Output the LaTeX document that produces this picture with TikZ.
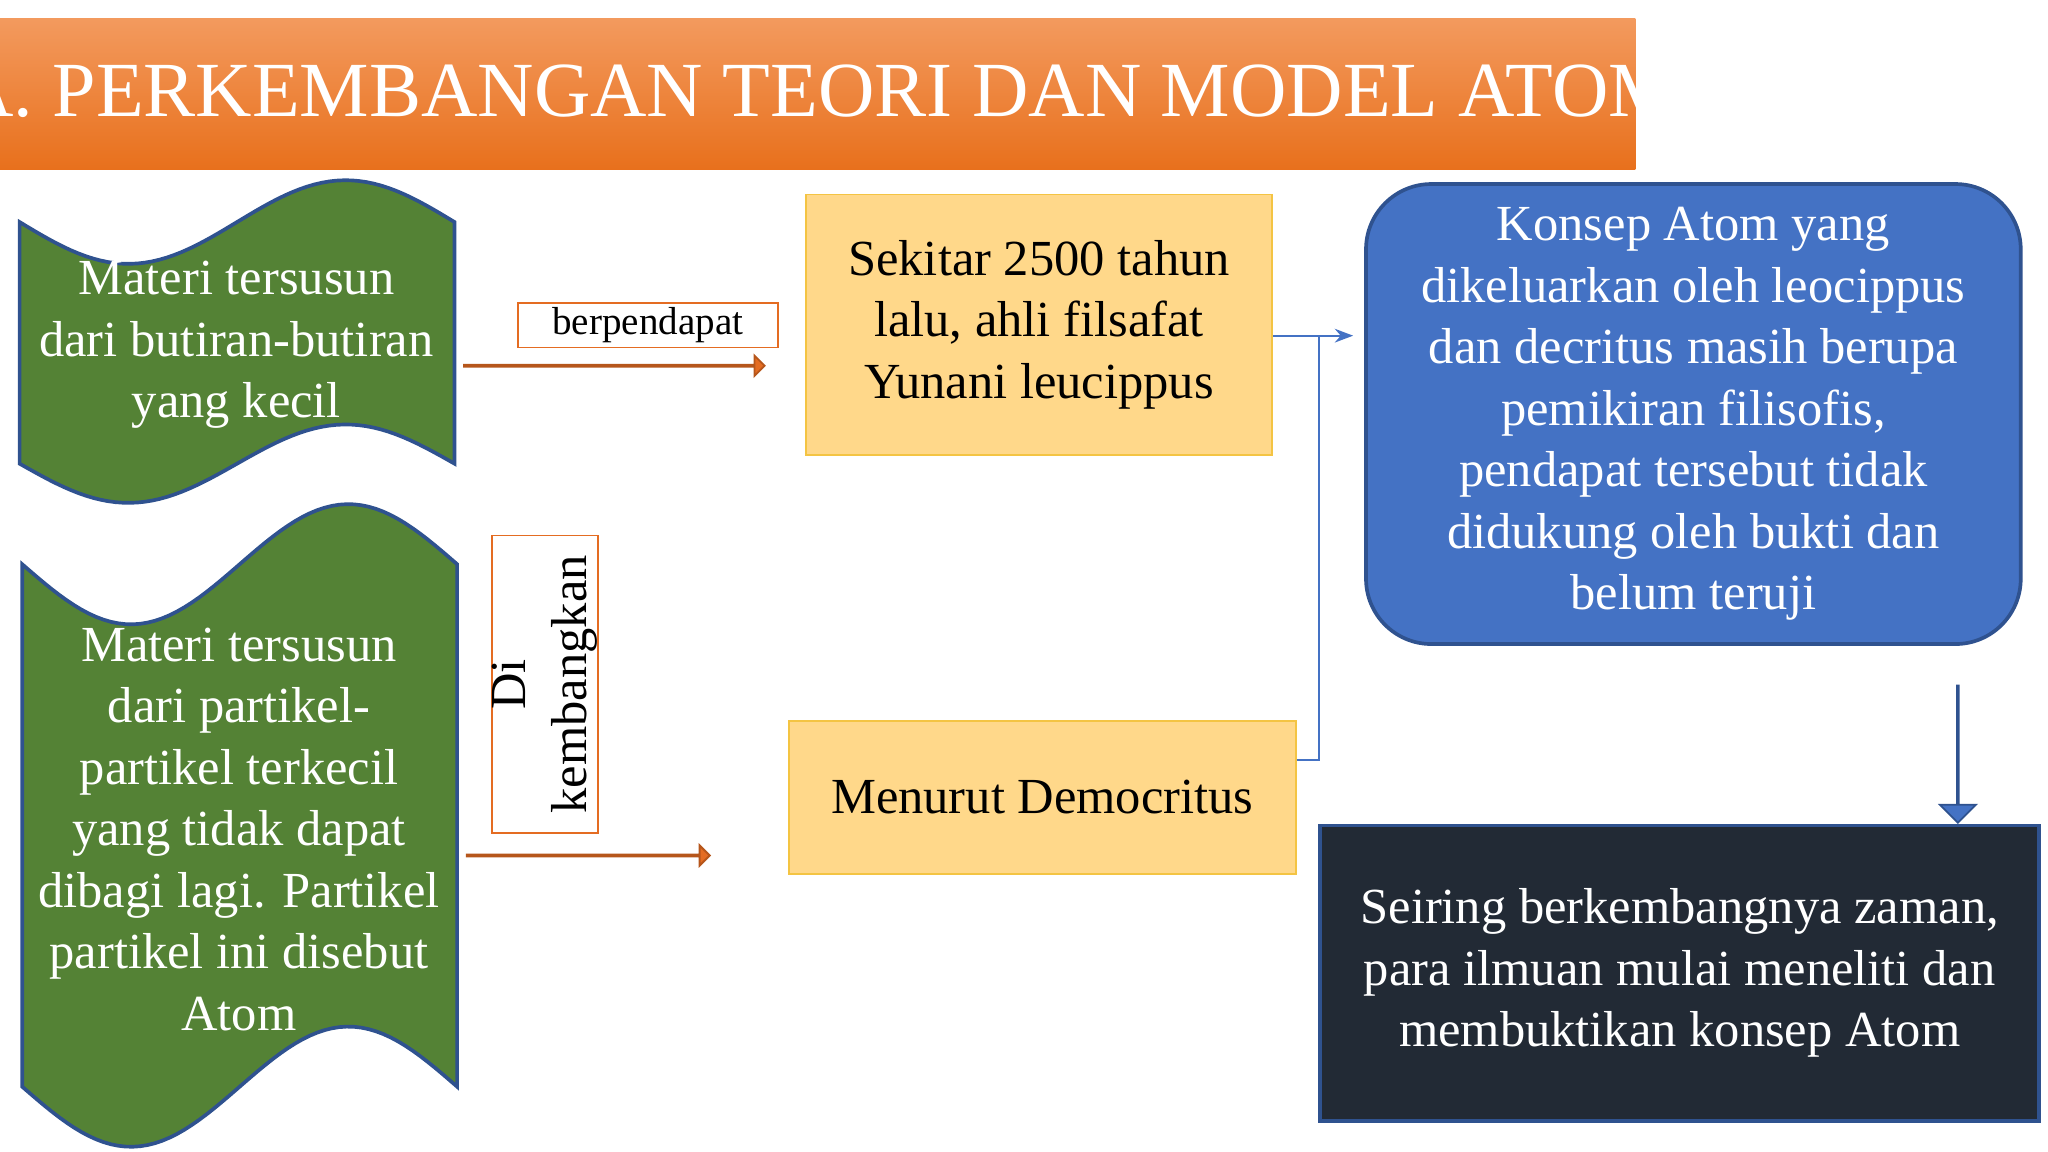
\documentclass[tikz,border=0pt]{standalone}
\usepackage{fontspec}
\setmainfont{Liberation Serif}
\usetikzlibrary{arrows.meta,positioning,shapes.arrows}
\definecolor{bannertop}{HTML}{F39A5E}
\definecolor{bannerbot}{HTML}{E8701C}
\definecolor{scrollgreen}{HTML}{548235}
\definecolor{scrollline}{HTML}{2F528F}
\definecolor{sandfill}{HTML}{FFD88A}
\definecolor{sandline}{HTML}{F4C443}
\definecolor{atomblue}{HTML}{4472C4}
\definecolor{nightbox}{HTML}{222A35}
\definecolor{arroworange}{HTML}{E46C22}

\begin{document}
\begin{tikzpicture}[x=0.01cm,y=-0.01cm,
	bodytext/.style={font=\fontsize{11}{13.4}\selectfont, align=center},
	sandbox/.style={draw=sandline, fill=sandfill, bodytext, inner sep=0pt},
	labelbox/.style={draw=arroworange, font=\fontsize{8.5}{9.5}\selectfont, inner sep=1pt},
	flowarrow/.style={draw=arroworange!80!black, fill=arroworange, single arrow, single arrow head extend=2pt, minimum height=#1, minimum width=0.11cm, inner sep=0pt}
]
\useasboundingbox (0,0) rectangle (1568,882);

% banner
\shade[top color=bannertop, bottom color=bannerbot] (0,14) rectangle (1252,130);
\node[text=white, font=\fontsize{17}{20}\selectfont] (title) at (626,70) {A. PERKEMBANGAN TEORI DAN MODEL ATOM};

% scroll shapes
\draw[scrollline, fill=scrollgreen, thick]
	plot[domain=15:348, samples=60] (\x,{170+32*sin((\x-15)/333*360)})
	-- plot[domain=348:15, samples=60] (\x,{355+30*sin((\x-15)/333*360)}) -- cycle;
\node[bodytext, text=white] (grain) at (181,264) {Materi tersusun\\dari butiran-butiran\\yang kecil};

\draw[scrollline, fill=scrollgreen, thick]
	plot[domain=17:350, samples=60] (\x,{432+46*sin((\x-17)/333*360)})
	-- plot[domain=350:17, samples=60] (\x,{832+46*sin((\x-17)/333*360)}) -- cycle;
\node[bodytext, text=white] (particle) at (183,635) {Materi tersusun\\dari partikel-\\partikel terkecil\\yang tidak dapat\\dibagi lagi. Partikel\\partikel ini disebut\\Atom};

% arrows and their labels
\node[flowarrow=2.3cm] (arrowA) at (470,280) {};
\node[labelbox, minimum width=1.99cm, minimum height=0.25cm] (said) at (496,249) {berpendapat};
\node[flowarrow=1.86cm] (arrowB) at (450,655) {};
\node[draw=arroworange, minimum width=2.28cm, minimum height=0.66cm, rotate=90, align=center, inner sep=0pt, font=\fontsize{11}{13.4}\selectfont] (grown) at (417,524) {Di\\kembangkan};

% yellow boxes
\node[sandbox, minimum width=3.57cm, minimum height=1.99cm] (leucippus) at (795.5,248.5) {Sekitar 2500 tahun\\lalu, ahli filsafat\\Yunani leucippus};
\node[sandbox, minimum width=3.88cm, minimum height=1.17cm] (democritus) at (798,610.5) {Menurut Democritus};

% blue box
\node[draw=scrollline, thick, fill=atomblue, rounded corners=0.5cm, text=white, bodytext, minimum width=5.01cm, minimum height=3.52cm] (concept) at (1296.5,317) {Konsep Atom yang\\dikeluarkan oleh leocippus\\dan decritus masih berupa\\pemikiran filisofis,\\pendapat tersebut tidak\\didukung oleh bukti dan\\belum teruji};

% connectors
\coordinate (joint) at (1010,257);
\coordinate (entry) at (1036,257);
\draw[atomblue, -{Stealth[length=4pt]}] (leucippus.east |- joint) -- (entry);
\draw[atomblue] (democritus.east |- 0,582) -| (joint);

% dark box
\node[draw=scrollline, thick, fill=nightbox, text=white, bodytext, minimum width=5.5cm, minimum height=2.26cm] (modern) at (1286,745) {Seiring berkembangnya zaman,\\para ilmuan mulai meneliti dan\\membuktikan konsep Atom};
\node[draw=scrollline, fill=atomblue, single arrow, shape border rotate=270, single arrow head extend=0.13cm, minimum height=1.05cm, minimum width=0.26cm, inner sep=0pt] (down) at (1499,577) {};
\end{tikzpicture}
\end{document}
